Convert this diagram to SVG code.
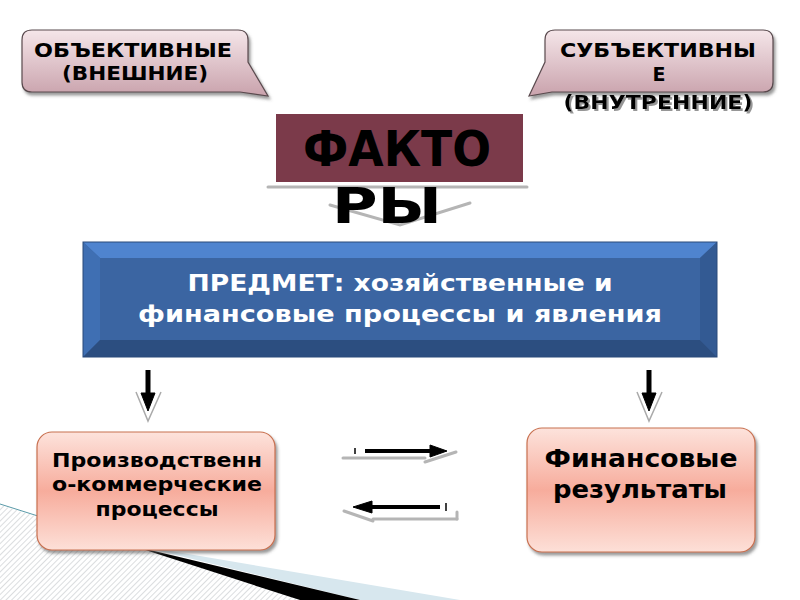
<svg xmlns="http://www.w3.org/2000/svg" width="800" height="600" viewBox="0 0 800 600">
<style>
.t{font-family:"DejaVu Sans","Noto Sans",sans-serif;font-weight:bold;text-anchor:middle;fill:#000}
.w{fill:#fff}
.gs{fill:none;stroke:#b5b5b5;stroke-width:3;stroke-linecap:round}
.bk{fill:#000;stroke:#000}
</style>
<defs>
<linearGradient id="pink" x1="0" y1="0" x2="0" y2="1">
<stop offset="0" stop-color="#f5e6e9"/><stop offset="1" stop-color="#c9a2ac"/>
</linearGradient>
<linearGradient id="salmon" x1="0" y1="0" x2="0" y2="1">
<stop offset="0" stop-color="#fde3dc"/><stop offset="0.5" stop-color="#f7ac9c"/><stop offset="1" stop-color="#fde0d8"/>
</linearGradient>
<pattern id="hatch" width="4" height="4" patternUnits="userSpaceOnUse" patternTransform="rotate(45)">
<rect width="4" height="4" fill="#fff"/><line x1="0" y1="0" x2="0" y2="4" stroke="#b8bcc0" stroke-width="1"/>
</pattern>
<filter id="sh" x="-10%" y="-10%" width="130%" height="130%">
<feDropShadow dx="2" dy="3" stdDeviation="1.5" flood-color="#555" flood-opacity="0.6"/>
</filter>
<filter id="tsh" x="-10%" y="-30%" width="120%" height="170%">
<feDropShadow dx="2" dy="2" stdDeviation="0.6" flood-color="#8a8a8a" flood-opacity="0.9"/>
</filter>
</defs>
<rect width="800" height="600" fill="#fff"/>
<g id="background">
<polygon points="0,505 305,600 0,600" fill="url(#hatch)"/>
<line x1="0" y1="504" x2="120" y2="542" stroke="#5a9aa8" stroke-width="1"/>
<polygon points="135,545 460,600 360,600" fill="#d7e7ee"/>
<polygon points="133,546 360,600 300,600" fill="#000"/>
</g>
<g id="callout-left">
<path d="M32,30 H238 Q248,30 248,40 V62 L268,96 L240,92 H32 Q22,92 22,82 V40 Q22,30 32,30 Z" fill="url(#pink)" stroke="#5a4a4e" stroke-width="1.2" filter="url(#sh)"/>
<text class="t" x="133" y="57" font-size="19" textLength="198" lengthAdjust="spacingAndGlyphs">ОБЪЕКТИВНЫЕ</text>
<text class="t" x="135" y="80" font-size="19" textLength="146" lengthAdjust="spacingAndGlyphs">(ВНЕШНИЕ)</text>
</g>
<g id="callout-right">
<path d="M555,30 H763 Q773,30 773,40 V82 Q773,92 763,92 H552 L529,96 L545,62 V40 Q545,30 555,30 Z" fill="url(#pink)" stroke="#5a4a4e" stroke-width="1.2" filter="url(#sh)"/>
<text class="t" x="658" y="57" font-size="19" textLength="196" lengthAdjust="spacingAndGlyphs">СУБЪЕКТИВНЫ</text>
<text class="t" x="659" y="81" font-size="19">Е</text>
<text class="t" x="658" y="109" font-size="19" textLength="189" lengthAdjust="spacingAndGlyphs" filter="url(#tsh)">(ВНУТРЕННИЕ)</text>
</g>
<g id="factors">
<line x1="268" y1="187" x2="527" y2="187" class="gs" stroke-width="4"/>
<polyline points="330,205 400,225 470,203" class="gs" stroke-width="4"/>
<rect x="276" y="114" width="247" height="68" fill="#7b3a4a"/>
<text class="t" x="397" y="166" font-size="49" textLength="188" lengthAdjust="spacingAndGlyphs">ФАКТО</text>
<text class="t" x="387" y="223" font-size="49" textLength="110" lengthAdjust="spacingAndGlyphs">РЫ</text>
</g>
<g id="subject">
<rect x="83" y="242" width="634" height="115" fill="#3a64a0"/>
<polygon points="83,242 717,242 700,258 100,258" fill="#4f84cf"/>
<polygon points="83,242 100,258 100,340 83,357" fill="#3f6fb3"/>
<polygon points="717,242 700,258 700,340 717,357" fill="#335a93"/>
<polygon points="83,357 100,340 700,340 717,357" fill="#2c4e80"/>
<rect x="100" y="258" width="600" height="82" fill="#3b65a2"/>
<rect x="83" y="242" width="634" height="115" fill="none" stroke="#2a4a7a" stroke-width="1"/>
<text class="t w" x="400" y="291" font-size="23" textLength="425" lengthAdjust="spacingAndGlyphs">ПРЕДМЕТ: хозяйственные и</text>
<text class="t w" x="400" y="322" font-size="23" textLength="524" lengthAdjust="spacingAndGlyphs">финансовые процессы  и явления</text>
</g>
<g id="production">
<rect x="37" y="432" width="238" height="118" rx="15" fill="url(#salmon)" stroke="#c8704f" stroke-width="1.2" filter="url(#sh)"/>
<text class="t" x="157" y="467" font-size="19" textLength="210" lengthAdjust="spacingAndGlyphs">Производственн</text>
<text class="t" x="157" y="491" font-size="19" textLength="210" lengthAdjust="spacingAndGlyphs">о-коммерческие</text>
<text class="t" x="157" y="516" font-size="19" textLength="123" lengthAdjust="spacingAndGlyphs">процессы</text>
</g>
<g id="results">
<rect x="527" y="428" width="228" height="124" rx="15" fill="url(#salmon)" stroke="#c8704f" stroke-width="1.2" filter="url(#sh)"/>
<text class="t" x="641" y="467" font-size="24" textLength="193" lengthAdjust="spacingAndGlyphs">Финансовые</text>
<text class="t" x="640" y="498" font-size="24" textLength="174" lengthAdjust="spacingAndGlyphs">результаты</text>
</g>
<g id="connectors">
<polyline points="136,392 148,421 161,392" fill="none" stroke="#aaa" stroke-width="1.5"/>
<line x1="148" y1="370" x2="148" y2="396" stroke="#000" stroke-width="5"/>
<polygon points="141,393 155,393 148,411" class="bk"/>
<polyline points="637,392 649,421 662,392" fill="none" stroke="#aaa" stroke-width="1.5"/>
<line x1="649" y1="370" x2="649" y2="396" stroke="#000" stroke-width="5"/>
<polygon points="642,393 656,393 649,411" class="bk"/>
<line x1="343" y1="458" x2="425" y2="458" class="gs"/>
<line x1="425" y1="462" x2="456" y2="452" class="gs"/>
<line x1="355" y1="448" x2="355" y2="454" stroke="#000" stroke-width="1.5"/>
<line x1="365" y1="451" x2="432" y2="451" stroke="#000" stroke-width="4"/>
<polygon points="430,445 447,451 430,457" class="bk"/>
<line x1="344" y1="511" x2="373" y2="521" class="gs"/>
<line x1="373" y1="519" x2="457" y2="519" class="gs"/>
<line x1="457" y1="519" x2="457" y2="512" class="gs" stroke-width="2"/>
<line x1="446" y1="503" x2="446" y2="511" stroke="#000" stroke-width="1.5"/>
<line x1="370" y1="507" x2="440" y2="507" stroke="#000" stroke-width="4"/>
<polygon points="372,501 353,507 372,513" class="bk"/>
</g>
</svg>
